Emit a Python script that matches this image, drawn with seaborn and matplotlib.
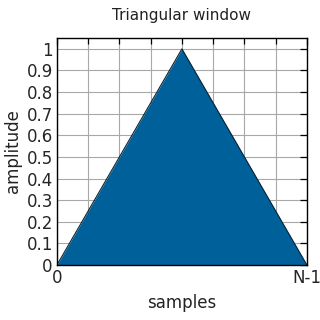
import matplotlib
matplotlib.use("Agg")
import matplotlib.pyplot as plt
import seaborn as sns
import pandas as pd

# Data
samples = [0, 4, 8]            # 0 .. N-1 (8 grid divisions)
amplitude = [0.0, 1.0, 0.0]
x_tick_pos = [0, 8]
x_tick_labels = ["0", "N-1"]
y_ticks = [0, 0.1, 0.2, 0.3, 0.4, 0.5, 0.6, 0.7, 0.8, 0.9, 1.0]
y_tick_labels = ["0", "0.1", "0.2", "0.3", "0.4", "0.5", "0.6", "0.7", "0.8", "0.9", "1"]

sns.set_style("white")
plt.rcParams["font.family"] = ["DejaVu Sans"]

df = pd.DataFrame({"samples": samples, "amplitude": amplitude})

fig = plt.figure(figsize=(3.2, 3.2), dpi=100)
ax = fig.add_axes([0.178, 0.172, 0.781, 0.709])

fill_color = "#00609a"
ax.fill_between(df["samples"], df["amplitude"], 0, color=fill_color, zorder=2, linewidth=0)
sns.lineplot(data=df, x="samples", y="amplitude", color="#0a2233", linewidth=0.8, ax=ax, zorder=3)

ax.set_xlim(0, 8)
ax.set_ylim(0, 1.05)

ax.set_xticks(list(range(0, 9)), minor=True)
ax.set_xticks(x_tick_pos)
ax.set_xticklabels(x_tick_labels)
ax.set_yticks(y_ticks)
ax.set_yticklabels(y_tick_labels)

ax.grid(True, which="both", axis="x", color="#a8a8a8", linewidth=0.8, zorder=0)
ax.grid(True, which="major", axis="y", color="#a8a8a8", linewidth=0.8, zorder=0)
ax.set_axisbelow(True)

ax.tick_params(axis="both", which="both", direction="in", top=True, right=True,
               length=5, width=0.9, color="black", labelsize=12, pad=3)
ax.tick_params(axis="x", which="minor", length=4)

for s in ax.spines.values():
    s.set_color("black")
    s.set_linewidth(1.0)
    s.set_zorder(4)

ax.set_title("Triangular window", fontsize=11, pad=13, color="#222222")
ax.set_xlabel("samples", fontsize=12, labelpad=5, color="#222222")
ax.set_ylabel("amplitude", fontsize=12, labelpad=3, color="#222222")

fig.savefig("out.png", dpi=100)
